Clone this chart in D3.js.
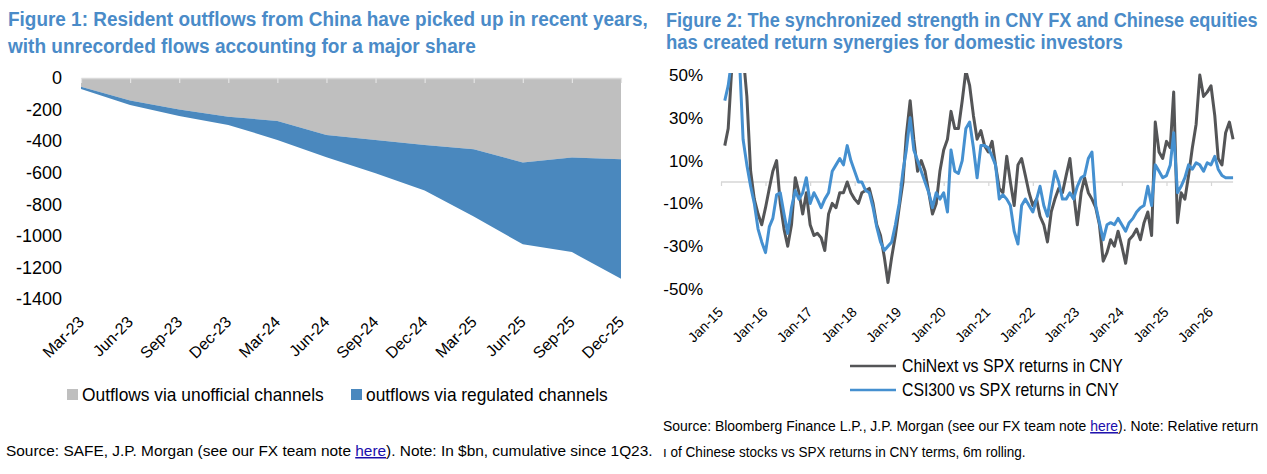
<!DOCTYPE html>
<html><head><meta charset="utf-8">
<script src="https://cdn.jsdelivr.net/npm/d3@7"></script>
<style>
body{margin:0;background:#fff}
svg{display:block}
text{font-family:"Liberation Sans",Arial,sans-serif;fill:#000}
</style>
</head><body>
<svg id="c" width="1267" height="474"></svg>
<script>
// ---------- Figure 1 data ----------
const quarters = ["Mar-23","Jun-23","Sep-23","Dec-23","Mar-24","Jun-24","Sep-24","Dec-24","Mar-25","Jun-25","Sep-25","Dec-25"];
const unofficial = [-55,-143,-200,-245,-272,-361,-392,-424,-451,-536,-504,-515];
const regulated  = [-15,-28,-40,-52,-120,-141,-211,-289,-427,-517,-599,-757];
const leftTicks = [0,-200,-400,-600,-800,-1000,-1200,-1400];
const leftSeriesNames = ["Outflows via unofficial channels","outflows via regulated channels"];

// ---------- Figure 2 data (monthly readings) ----------
const months = [
 "2015-02","2015-03","2015-04","2015-05","2015-06","2015-07","2015-08","2015-09","2015-10","2015-11","2015-12","2016-01",
 "2016-02","2016-03","2016-04","2016-05","2016-06","2016-07","2016-08","2016-09","2016-10","2016-11","2016-12","2017-01",
 "2017-02","2017-03","2017-04","2017-05","2017-06","2017-07","2017-08","2017-09","2017-10","2017-11","2017-12","2018-01",
 "2018-02","2018-03","2018-04","2018-05","2018-06","2018-07","2018-08","2018-09","2018-10","2018-11","2018-12","2019-01",
 "2019-02","2019-03","2019-04","2019-05","2019-06","2019-07","2019-08","2019-09","2019-10","2019-11","2019-12","2020-01",
 "2020-02","2020-03","2020-04","2020-05","2020-06","2020-07","2020-08","2020-09","2020-10","2020-11","2020-12","2021-01",
 "2021-02","2021-03","2021-04","2021-05","2021-06","2021-07","2021-08","2021-09","2021-10","2021-11","2021-12","2022-01",
 "2022-02","2022-03","2022-04","2022-05","2022-06","2022-07","2022-08","2022-09","2022-10","2022-11","2022-12","2023-01",
 "2023-02","2023-03","2023-04","2023-05","2023-06","2023-07","2023-08","2023-09","2023-10","2023-11","2023-12","2024-01",
 "2024-02","2024-03","2024-04","2024-05","2024-06","2024-07","2024-08","2024-09","2024-10","2024-11","2024-12","2025-01",
 "2025-02","2025-03","2025-04","2025-05","2025-06","2025-07","2025-08","2025-09","2025-10","2025-11","2025-12","2026-01",
 "2026-02","2026-03","2026-04","2026-05","2026-06","2026-07"];
const chinext = [
 17,25,55,60,65,60,40,5,-8,-15,-20,-12,
 -3,5,10,-10,-22,-30,-20,2,-5,-15,-5,-20,
 -25,-24,-26,-32,-15,-10,-12,-5,-5,0,-5,-8,
 -10,-5,-4,-3,-10,-20,-25,-35,-47,-35,-25,-12,
 0,22,38,20,5,10,5,-5,-15,-10,5,15,
 20,33,25,25,38,52,45,31,20,24,17,14,
 19,8,-3,-5,12,0,-11,8,11,3,-5,-11,
 -8,-16,-20,-28,-14,-8,-3,-5,3,11,-5,-20,
 -5,2,-5,-8,-12,-20,-37,-33,-27,-30,-23,-30,
 -38,-27,-25,-22,-27,-19,-14,-25,28,14,11,19,
 16,42,-19,-5,-8,3,16,27,50,40,42,45,
 31,11,8,23,28,20];
const csi300 = [
 38,45,58,62,58,20,8,-2,-10,-22,-28,-33,
 -21,-17,-6,-5,-15,-24,-12,-4,-8,-5,2,-10,
 -5,-8,-12,-8,-5,5,8,11,8,17,10,5,
 0,0,-4,-5,-12,-21,-28,-32,-30,-28,-20,-10,
 5,15,30,15,10,5,0,-5,-12,-5,-8,-5,
 -14,15,5,4,10,25,28,16,2,17,17,16,
 12,8,-8,-6,-8,-11,-23,-29,-11,-8,-11,-14,
 -8,-2,-11,-16,-5,5,0,-8,-8,-5,-8,-2,
 2,3,11,14,-11,-19,-27,-20,-19,-20,-17,-20,
 -23,-19,-17,-14,-12,-11,-2,-11,8,5,2,3,
 8,23,-5,-2,2,8,6,9,8,5,9,8,
 12,6,3,2,2,2];
const rightTicks = [50,30,10,-10,-30,-50];
const yearTicks = ["2015-01","2016-01","2017-01","2018-01","2019-01","2020-01","2021-01","2022-01","2023-01","2024-01","2025-01","2026-01"];
const rightSeriesNames = ["ChiNext vs SPX returns in CNY","CSI300 vs SPX returns in CNY"];

const titleBlue = "#4a8bc8", grayArea = "#bfbfbf", blueArea = "#4a88be";
const lineGray = "#545557", lineBlue = "#4590d0";

const svg = d3.select("#c");
const parseM = d3.timeParse("%Y-%m");

// scale a text horizontally to a target width (keeps glyph height)
function fit(t, x, y, w){
  const n = t.node().getComputedTextLength();
  const s = w / n;
  t.attr("transform", `translate(${x},${y}) scale(${s},1)`);
  return t;
}
function addText(g, x, y, w, size, str, opts={}){
  const t = g.append("text").attr("x",0).attr("y",0).attr("font-size",size);
  if(opts.bold) t.attr("font-weight","bold");
  if(opts.fill) t.style("fill",opts.fill);
  if(Array.isArray(str)){
    str.forEach(p=>{
      const ts = t.append("tspan").text(p.t);
      if(p.link) ts.style("fill","#1a0dab").attr("text-decoration","underline");
    });
  } else t.text(str);
  return fit(t, x, y, w);
}

// ================= Figure 1 =================
const g1 = svg.append("g");
addText(g1, 8, 26, 640, 20, "Figure 1: Resident outflows from China have picked up in recent years,", {bold:true, fill:titleBlue});
addText(g1, 8, 53, 468, 20, "with unrecorded flows accounting for a major share", {bold:true, fill:titleBlue});

const x1 = d3.scalePoint().domain(quarters).range([81,621]);
const y1 = d3.scaleLinear().domain([-1400,0]).range([299,78]);
const rows = quarters.map((q,i)=>({q, u:unofficial[i], r:regulated[i]}));

g1.append("path").datum(rows)
  .attr("d", d3.area().x(d=>x1(d.q)).y0(y1(0)).y1(d=>y1(d.u)))
  .attr("fill", grayArea);
g1.append("path").datum(rows)
  .attr("d", d3.area().x(d=>x1(d.q)).y0(d=>y1(d.u)).y1(d=>y1(d.u+d.r)))
  .attr("fill", blueArea);

const topAx = g1.append("g").attr("transform",`translate(0,${y1(0)})`)
  .call(d3.axisBottom(x1).tickSize(5).tickSizeOuter(0).tickFormat(""));
topAx.select(".domain").attr("stroke","#d9d9d9").attr("stroke-width",1.5);
topAx.selectAll(".tick line").attr("stroke","#e4e4e4").attr("stroke-width",1.2);

const yAx1 = g1.append("g").attr("transform","translate(81,0)")
  .call(d3.axisLeft(y1).tickValues(leftTicks).tickSize(0).tickPadding(19).tickFormat(d=>String(d)));
yAx1.select(".domain").remove();
yAx1.selectAll("text").attr("font-size",18).attr("font-family","Liberation Sans, Arial, sans-serif").style("fill","#000");

g1.selectAll(".xl").data(quarters).enter().append("text")
  .attr("transform", d=>`translate(${x1(d)+4},323) rotate(-45)`)
  .attr("text-anchor","end").attr("font-size",16).text(d=>d);

const leg1 = [{n:leftSeriesNames[0], c:grayArea, sx:67, tx:82, w:242},
              {n:leftSeriesNames[1], c:blueArea, sx:351, tx:366, w:242}];
leg1.forEach(l=>{
  g1.append("rect").attr("x",l.sx).attr("y",389).attr("width",11).attr("height",11).attr("fill",l.c);
  addText(g1, l.tx, 401, l.w, 18, l.n);
});

addText(g1, 6, 456, 647, 15, [
  {t:"Source: SAFE, J.P. Morgan (see our FX team note "},{t:"here",link:true},
  {t:"). Note: In $bn, cumulative since 1Q23."}]);

// ================= Figure 2 =================
const g2 = svg.append("g");
addText(g2, 666, 27, 592, 20, "Figure 2: The synchronized strength in CNY FX and Chinese equities", {bold:true, fill:titleBlue});
addText(g2, 666, 49, 457, 20, "has created return synergies for domestic investors", {bold:true, fill:titleBlue});

const dates = months.map(parseM);
const x2 = d3.scaleTime().domain([parseM("2015-01"), parseM("2026-01")]).range([721,1211]);
const y2 = d3.scaleLinear().domain([-50,50]).range([289,75]);

g2.append("line").attr("x1",x2(parseM("2015-01"))).attr("x2",x2(dates[dates.length-1]))
  .attr("y1",y2(0)).attr("y2",y2(0)).attr("stroke","#d6d6d6").attr("stroke-width",1.5);
const xAx2 = g2.append("g").attr("transform",`translate(0,${y2(0)})`)
  .call(d3.axisBottom(x2).tickValues(yearTicks.map(parseM)).tickSize(4).tickFormat(""));
xAx2.select(".domain").remove();
xAx2.selectAll(".tick line").attr("stroke","#d6d6d6").attr("stroke-width",1.2);

const yAx2 = g2.append("g").attr("transform","translate(721,0)")
  .call(d3.axisLeft(y2).tickValues(rightTicks).tickSize(0).tickPadding(18).tickFormat(d=>d+"%"));
yAx2.select(".domain").remove();
yAx2.selectAll("text").attr("font-size",17).attr("font-family","Liberation Sans, Arial, sans-serif").style("fill","#000");

g2.append("clipPath").attr("id","clipR").append("rect")
  .attr("x",715).attr("y",y2(50)-2).attr("width",540).attr("height",y2(-50)-y2(50)+12);

const line2 = d3.line().x((d,i)=>x2(dates[i])).y(d=>y2(d));
g2.append("path").datum(chinext).attr("d",line2).attr("fill","none")
  .attr("stroke",lineGray).attr("stroke-width",3).attr("stroke-linejoin","round").attr("clip-path","url(#clipR)");
g2.append("path").datum(csi300).attr("d",line2).attr("fill","none")
  .attr("stroke",lineBlue).attr("stroke-width",3).attr("stroke-linejoin","round").attr("clip-path","url(#clipR)");

g2.selectAll(".xl2").data(yearTicks).enter().append("text")
  .attr("transform", d=>`translate(${x2(parseM(d))+3},313) rotate(-45)`)
  .attr("text-anchor","end").attr("font-size",14)
  .text(d=>d3.timeFormat("Jan-%y")(parseM(d)));

const leg2 = [{n:rightSeriesNames[0], c:lineGray, y:366, w:221},
              {n:rightSeriesNames[1], c:lineBlue, y:390, w:217}];
leg2.forEach(l=>{
  g2.append("line").attr("x1",850).attr("x2",896).attr("y1",l.y).attr("y2",l.y)
    .attr("stroke",l.c).attr("stroke-width",2.5);
  addText(g2, 902, l.y+6, l.w, 18, l.n);
});

addText(g2, 663, 431, 596, 15, [
  {t:"Source: Bloomberg Finance L.P., J.P. Morgan (see our FX team note "},{t:"here",link:true},
  {t:"). Note: Relative return"}]);
addText(g2, 663, 457, 363, 15, "ı of Chinese stocks vs SPX returns in CNY terms, 6m rolling.");
</script>
</body></html>
